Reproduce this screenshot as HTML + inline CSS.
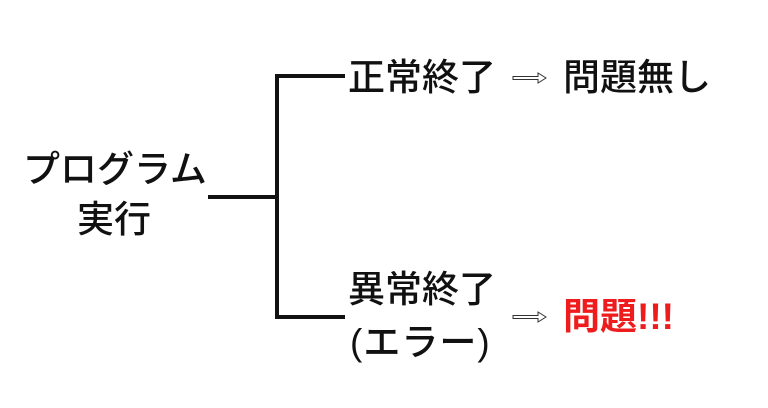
<!DOCTYPE html>
<html><head><meta charset="utf-8"><style>
html,body{margin:0;padding:0;background:#fff;width:768px;height:408px;overflow:hidden;position:relative}
.t{position:absolute;font-family:"Liberation Sans","Noto Sans CJK JP",sans-serif;font-weight:500;font-size:37px;line-height:37px;white-space:nowrap;color:#111}
.l{position:absolute;background:#111}
</style></head><body>
<div class="t" style="left:23px;top:151px">プログラム</div>
<div class="t" style="left:77px;top:201px">実行</div>
<div class="l" style="left:208px;top:195px;width:71px;height:4px"></div>
<div class="l" style="left:275px;top:74px;width:4px;height:245px"></div>
<div class="l" style="left:275px;top:74px;width:70px;height:4px"></div>
<div class="l" style="left:275px;top:315px;width:70px;height:4px"></div>
<div class="t" style="left:348px;top:59px">正常終了</div>
<div class="t" style="left:563px;top:59px">問題無し</div>
<div class="t" style="left:348px;top:271px">異常終了</div>
<div class="t" style="left:350px;top:324px;letter-spacing:1px">(エラー)</div>
<div class="t" style="left:563px;top:298px;color:#ee1c1c;font-weight:bold">問題!!!</div>
<svg style="position:absolute;left:0;top:0" width="768" height="408">
<path d="M513,76.5 H538 V73 L546,78 L538,83 V79.5 H513 Z" fill="#fff" stroke="#333" stroke-width="1"/>
<path d="M513,315.5 H538 V312 L546,317 L538,322 V318.5 H513 Z" fill="#fff" stroke="#333" stroke-width="1"/>
</svg>
</body></html>
